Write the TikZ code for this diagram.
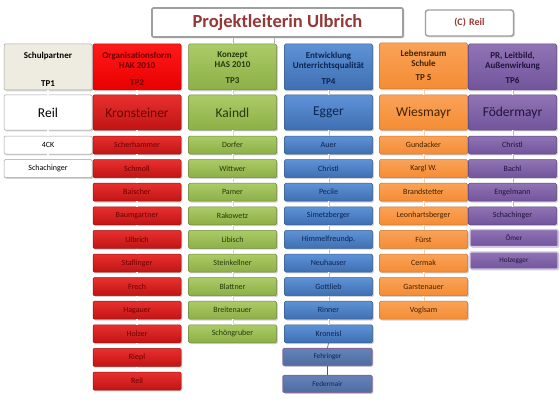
\documentclass[tikz,border=0pt]{standalone}
\usepackage{fontspec}
\setmainfont{Carlito}
\usetikzlibrary{shadows}
\definecolor{titlered}{HTML}{953735}
\definecolor{gbord}{HTML}{A0A0A0}
\definecolor{beige}{HTML}{EEECE1}
% red
\definecolor{rtop}{HTML}{E8302E}\definecolor{rbot}{HTML}{C01414}\definecolor{rbor}{HTML}{A01212}\definecolor{rtxt}{HTML}{6E0000}
\definecolor{rhtop}{HTML}{FF1A1A}\definecolor{rhbot}{HTML}{E80000}
% green
\definecolor{gtop}{HTML}{AACB66}\definecolor{gbot}{HTML}{8DAF47}\definecolor{gbor}{HTML}{71893F}\definecolor{gtxt}{HTML}{263A0C}
% blue
\definecolor{btop}{HTML}{5E92D6}\definecolor{bbot}{HTML}{3E6FB2}\definecolor{bbor}{HTML}{385D8A}\definecolor{btxt}{HTML}{0C2450}
% orange
\definecolor{otop}{HTML}{FAA258}\definecolor{obot}{HTML}{F48C34}\definecolor{obor}{HTML}{C8782E}\definecolor{otxt}{HTML}{422200}
% purple
\definecolor{ptop}{HTML}{9074B4}\definecolor{pbot}{HTML}{72549C}\definecolor{pbor}{HTML}{5C4580}\definecolor{ptxt}{HTML}{21133A}
% special
\definecolor{mbtop}{HTML}{6483B8}\definecolor{mbbot}{HTML}{4E6CA2}\definecolor{lav}{HTML}{D2C4E8}
\begin{document}
\begin{tikzpicture}[x=1pt,y=-1pt,
  box/.style={rectangle, rounded corners=1.2pt, inner sep=0pt, minimum width=88pt, line width=0.5pt,
    drop shadow={shadow xshift=1.3pt, shadow yshift=-1.3pt, opacity=0.35}},
  hdr/.style={box, minimum height=46pt},
  htext/.style={font=\bfseries\fontsize{9}{10}\selectfont, align=center, inner sep=0pt},
  big/.style={box, minimum height=35pt, font=\fontsize{13.5}{15}\selectfont},
  rowb/.style={box, minimum height=18pt, font=\fontsize{8}{9}\selectfont},
  small/.style={rowb, line width=1.1pt, font=\fontsize{7.2}{8}\selectfont, minimum height=17pt},
  cone/.style={draw=gbord, fill=white, text=black},
  ctwo/.style={draw=rbor, top color=rtop, bottom color=rbot, text=rtxt},
  cthree/.style={draw=gbor, top color=gtop, bottom color=gbot, text=gtxt},
  cfour/.style={draw=bbor, top color=btop, bottom color=bbot, text=btxt},
  cfive/.style={draw=obor, top color=otop, bottom color=obot, text=otxt},
  csix/.style={draw=pbor, top color=ptop, bottom color=pbot, text=ptxt},
  conn/.style={draw=#1, line width=0.4pt, double=white, double distance=1.2pt},
]
\useasboundingbox (0,0) rectangle (560,420);

% title
\node[box, draw=gray!75, line width=1.6pt, fill=white, minimum width=251pt, minimum height=29pt,
  text=titlered, font=\bfseries\fontsize{18.5}{20}\selectfont] (title) at (277.5,22.5) {Projektleiterin Ulbrich};
\node[box, draw=gray!75, line width=1.4pt, fill=white, rounded corners=2.5pt, minimum width=88pt, minimum height=26pt,
  text=titlered, font=\bfseries\fontsize{10}{11}\selectfont] (copy) at (469.5,23) {(C)\,\,Reil};

% headers
\node[hdr, draw=gbord, fill=beige] (h1) at (48,67) {};
\node[hdr, draw=rbor, top color=rhtop, bottom color=rhbot] (h2) at (137,67) {};
\node[hdr, cthree] (h3) at (232.5,67) {};
\node[hdr, cfour] (h4) at (328.5,67) {};
\node[hdr, cfive] (h5) at (423.5,66) {};
\node[hdr, csix] (h6) at (512.5,67) {};

\node[htext, text=black, anchor=north] (h1a) at ([yshift=-8pt]h1.north) {Schulpartner};
\node[htext, text=black, anchor=south] (h1b) at ([yshift=4pt]h1.south) {TP1};
\node[htext, text=rtxt, anchor=north] (h2a) at ([yshift=-8pt]h2.north) {Organisationsform\\HAK 2010};
\node[htext, text=rtxt, anchor=south] (h2b) at ([yshift=5pt]h2.south) {TP2};
\node[htext, text=gtxt, anchor=north] (h3a) at ([yshift=-8pt]h3.north) {Konzept\\HAS 2010};
\node[htext, text=gtxt, anchor=south] (h3b) at ([yshift=6pt]h3.south) {TP3};
\node[htext, text=btxt, anchor=north] (h4a) at ([yshift=-8pt]h4.north) {Entwicklung\\Unterrichtsqualität};
\node[htext, text=btxt, anchor=south] (h4b) at ([yshift=6pt]h4.south) {TP4};
\node[htext, text=otxt, anchor=north] (h5a) at ([yshift=-7pt]h5.north) {Lebensraum\\Schule};
\node[htext, text=otxt, anchor=south] (h5b) at ([yshift=8pt]h5.south) {TP 5};
\node[htext, text=ptxt, anchor=north] (h6a) at ([yshift=-8pt]h6.north) {PR, Leitbild,\\Außenwirkung};
\node[htext, text=ptxt, anchor=south] (h6b) at ([yshift=6pt]h6.south) {TP6};

\draw[conn=gray!60] (title.south -| h3.north) -- (h3.north);
\draw[conn=gray!60] ([xshift=-1.5pt]title.south -| h3.north east) -- ([xshift=-1.5pt]h3.north east);

% big name boxes
\node[big, cone] (k1) at (48,112.5) {Reil};
\node[big, ctwo] (k2) at (137,112.5) {Kronsteiner};
\node[big, cthree] (k3) at (232.5,112.5) {Kaindl};
\node[big, cfour] (k4) at (328.5,112.5) {Egger};
\node[big, cfive] (k5) at (423.5,112.5) {Wiesmayr};
\node[big, csix] (k6) at (512.5,112.5) {Födermayr};
\foreach \c/\col in {1/gray!45,2/rtop!45,3/gtop!55,4/btop!55,5/otop!55,6/ptop!55}
  \draw[conn=\col] (h\c.south) -- (k\c.north);

% column rows
\foreach \t [count=\i from 0] in {4CK,Schachinger} {
  \pgfmathtruncatemacro\j{\i-1}
  \ifnum\i=0 \def\prev{k1}\else\edef\prev{c1-\j}\fi
  \node[rowb, cone] (c1-\i) at (48,{145+23.6*\i}) {\t};
  \draw[conn=gray!45] (\prev.south) -- (c1-\i.north);
}
\foreach \t [count=\i from 0] in {Scherhammer,Schmoll,Baischer,Baumgartner,Ulbrich,Staflinger,Frech,Hagauer,Holzer,Riepl,Reil} {
  \pgfmathtruncatemacro\j{\i-1}
  \ifnum\i=0 \def\prev{k2}\else\edef\prev{c2-\j}\fi
  \node[rowb, ctwo] (c2-\i) at (137,{145+23.6*\i}) {\t};
  \draw[conn=rtop!45] (\prev.south) -- (c2-\i.north);
}
\foreach \t [count=\i from 0] in {Dorfer,Wittwer,Pamer,Rakowetz,Libisch,Steinkellner,Blattner,Breitenauer,Schöngruber} {
  \pgfmathtruncatemacro\j{\i-1}
  \ifnum\i=0 \def\prev{k3}\else\edef\prev{c3-\j}\fi
  \node[rowb, cthree] (c3-\i) at (232.5,{145+23.6*\i}) {\t};
  \draw[conn=gtop!55] (\prev.south) -- (c3-\i.north);
}
\foreach \t [count=\i from 0] in {Auer,Christl,Pecile,Simetzberger,Himmelfreundp.,Neuhauser,Gottlieb,Rinner,Kroneisl} {
  \pgfmathtruncatemacro\j{\i-1}
  \ifnum\i=0 \def\prev{k4}\else\edef\prev{c4-\j}\fi
  \node[rowb, cfour] (c4-\i) at (328.5,{145+23.6*\i}) {\t};
  \draw[conn=btop!55] (\prev.south) -- (c4-\i.north);
}
\foreach \t [count=\i from 0] in {Gundacker,Kargl W.,Brandstetter,Leonhartsberger,Fürst,Cermak,Garstenauer,Voglsam} {
  \pgfmathtruncatemacro\j{\i-1}
  \ifnum\i=0 \def\prev{k5}\else\edef\prev{c5-\j}\fi
  \node[rowb, cfive] (c5-\i) at (423.5,{145+23.6*\i}) {\t};
  \draw[conn=otop!55] (\prev.south) -- (c5-\i.north);
}
\foreach \t [count=\i from 0] in {Christl,Bachl,Engelmann,Schachinger} {
  \pgfmathtruncatemacro\j{\i-1}
  \ifnum\i=0 \def\prev{k6}\else\edef\prev{c6-\j}\fi
  \node[rowb, csix] (c6-\i) at (512.5,{145+23.6*\i}) {\t};
  \draw[conn=ptop!55] (\prev.south) -- (c6-\i.north);
}

% special boxes
\node[small, draw=pbor!80!white, top color=mbtop, bottom color=mbbot, text=btxt, minimum width=89pt] (f1) at (327.5,357) {Fehringer};
\node[small, draw=pbor!80!white, top color=mbtop, bottom color=mbbot, text=btxt, minimum width=89pt] (f2) at (327.5,384) {Federmair};
\draw[gray!70!black, line width=0.6pt] (c4-8.south) -- (f1.north);
\draw[gray!70!black, line width=0.6pt] (f1.south) -- (f2.north);

\node[small, draw=lav, top color=ptop, bottom color=pbot, text=ptxt] (o1) at (514,238) {Ömer};
\node[small, draw=lav, top color=ptop, bottom color=pbot, text=ptxt] (o2) at (514,260.5) {Holzegger};
\end{tikzpicture}
\end{document}
